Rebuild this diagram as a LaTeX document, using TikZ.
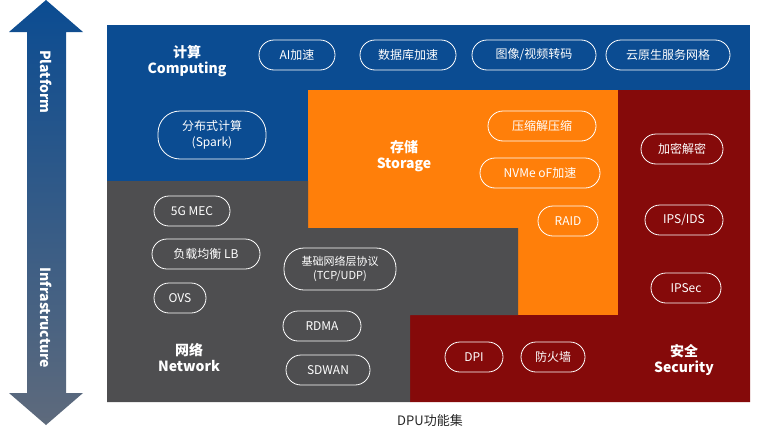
\documentclass[tikz,border=0pt]{standalone}
\usepackage{fontspec}
\setmainfont{Noto Sans CJK SC}
\begin{document}
\begin{tikzpicture}[x=1pt,y=-1pt,
  pill/.style={draw=white,line width=0.8pt,rounded corners=15pt,text=white,font=\fontsize{12}{14}\selectfont,align=center,minimum height=30pt,inner sep=0pt},
  lbl/.style={text=white,font=\bfseries\fontsize{14}{16}\selectfont,align=center}]
\definecolor{cblue}{HTML}{0B4C92}
\definecolor{corange}{HTML}{FF7F0A}
\definecolor{cred}{HTML}{850A0A}
\definecolor{cgray}{HTML}{4E4E50}
\definecolor{agray}{HTML}{5E6A7C}
\useasboundingbox (0,0) rectangle (763,434);
% arrow
\shade[top color=cblue,bottom color=agray] (46,0) -- (83,32) -- (66,32) -- (66,393) -- (83,393) -- (46,425) -- (9,393) -- (27,393) -- (27,32) -- (9,32) -- cycle;
\node[rotate=-90,text=white,font=\bfseries\fontsize{14}{16}\selectfont] (plat) at (46,82) {Platform};
\node[rotate=-90,text=white,font=\bfseries\fontsize{14}{16}\selectfont] (infra) at (46,318) {Infrastructure};
% regions
\fill[cblue] (107,25) rectangle (750,90);
\fill[cblue] (107,90) rectangle (308,181);
\fill[corange] (308,90) -- (618,90) -- (618,315) -- (518,315) -- (518,228) -- (308,228) -- cycle;
\fill[cred] (618,90) -- (750,90) -- (750,402) -- (410,402) -- (410,315) -- (618,315) -- cycle;
\fill[cgray] (107,181) -- (308,181) -- (308,228) -- (518,228) -- (518,315) -- (410,315) -- (410,402) -- (107,402) -- cycle;
% labels
\node[lbl] (comp) at (187,61) {计算\\Computing};
\node[lbl] (stor) at (404,156) {存储\\Storage};
\node[lbl] (net) at (189,358) {网络\\Network};
\node[lbl] (sec) at (684,360) {安全\\Security};
% pills
\node[pill,minimum width=76pt] (ai) at (297,55) {AI加速};
\node[pill,minimum width=96pt] (db) at (408,55) {数据库加速};
\node[pill,minimum width=124pt] (img) at (534,55) {图像/视频转码};
\node[pill,minimum width=124pt] (cloud) at (668,55) {云原生服务网格};
\node[pill,minimum width=108pt,minimum height=48pt,rounded corners=22pt,font=\fontsize{12}{16}\selectfont] (spark) at (212,135) {分布式计算\\(Spark)};
\node[pill,minimum width=108pt] (zip) at (542,126) {压缩解压缩};
\node[pill,minimum width=120pt] (nvme) at (540,173) {NVMe oF加速};
\node[pill,minimum width=60pt] (raid) at (568,221) {RAID};
\node[pill,minimum width=82pt] (enc) at (682,149) {加密解密};
\node[pill,minimum width=78pt] (ips) at (684,220) {IPS/IDS};
\node[pill,minimum width=70pt] (ipsec) at (686,288) {IPSec};
\node[pill,minimum width=76pt] (mec) at (192,211) {5G MEC};
\node[pill,minimum width=108pt] (lb) at (206,254) {负载均衡 LB};
\node[pill,minimum width=52pt] (ovs) at (180,298) {OVS};
\node[pill,minimum width=112pt,minimum height=42pt,rounded corners=20pt,font=\fontsize{11}{14}\selectfont] (tcp) at (340,269) {基础网络层协议\\(TCP/UDP)};
\node[pill,minimum width=78pt] (rdma) at (322,326) {RDMA};
\node[pill,minimum width=84pt] (sdwan) at (328,370) {SDWAN};
\node[pill,minimum width=58pt] (dpi) at (474,357) {DPI};
\node[pill,minimum width=64pt] (fw) at (553,357) {防火墙};
\node[font=\fontsize{13}{15}\selectfont,text=black!85] (title) at (430,421) {DPU功能集};
\end{tikzpicture}
\end{document}
